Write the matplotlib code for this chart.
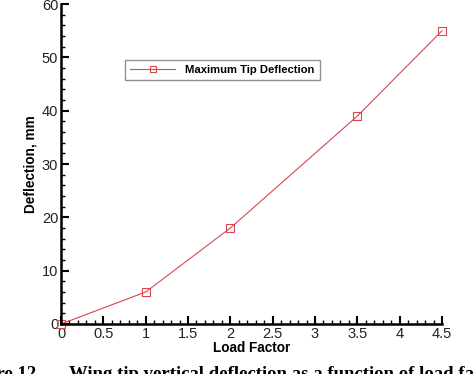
import matplotlib.pyplot as plt
from matplotlib.ticker import MultipleLocator

# Data
load_factor = [0, 1, 2, 3.5, 4.5]
tip_deflection = [0, 6, 18, 39, 55]

x_ticks = [0, 0.5, 1, 1.5, 2, 2.5, 3, 3.5, 4, 4.5]
x_tick_labels = ["0", "0.5", "1", "1.5", "2", "2.5", "3", "3.5", "4", "4.5"]
y_ticks = [0, 10, 20, 30, 40, 50, 60]

plt.rcParams['font.family'] = ['Liberation Sans', 'DejaVu Sans']

fig = plt.figure(figsize=(4.74, 3.74), dpi=100)
ax = fig.add_axes([0.1287, 0.1337, 0.8038, 0.8553])

line_color = '#d94550'
ax.plot(load_factor, tip_deflection, color=line_color, linewidth=0.8,
        marker='s', markersize=6, markerfacecolor='none',
        markeredgecolor=line_color, markeredgewidth=0.8,
        label='Maximum Tip Deflection', clip_on=False)

ax.set_xlim(0, 4.5)
ax.set_ylim(0, 60)
ax.set_xticks(x_ticks)
ax.set_xticklabels(x_tick_labels)
ax.set_yticks(y_ticks)
ax.xaxis.set_minor_locator(MultipleLocator(0.1))
ax.yaxis.set_minor_locator(MultipleLocator(2))

# Tecplot-like axes: only left and bottom, ticks pointing in
ax.spines['top'].set_visible(False)
ax.spines['right'].set_visible(False)
ax.spines['left'].set_linewidth(1.8)
ax.spines['bottom'].set_linewidth(1.8)
ax.tick_params(which='major', direction='in', length=6, width=1.5,
               labelsize=10.5, pad=2, labelcolor='#222222')
ax.tick_params(which='minor', direction='in', length=3, width=1.0)

ax.set_xlabel('Load Factor', fontsize=9.8, fontweight='bold', labelpad=0)
ax.set_ylabel('Deflection, mm', fontsize=9.8, fontweight='bold', labelpad=3)

leg = ax.legend(loc='upper left', bbox_to_anchor=(0.168, 0.825),
                borderaxespad=0, frameon=True, fancybox=False,
                edgecolor='#777777', handlelength=4.0, borderpad=0.45,
                handletextpad=0.9, markerscale=0.8,
                prop={'weight': 'bold', 'size': 8.1})
leg.get_frame().set_linewidth(1.0)

# cut-off figure caption at the bottom edge
fig.text(-0.085, -0.025, 'Figure 12.      Wing tip vertical deflection as a function of load factor',
         fontsize=13.5, fontweight='bold', family='Liberation Serif', va='bottom')

fig.savefig('out.png', dpi=100)
